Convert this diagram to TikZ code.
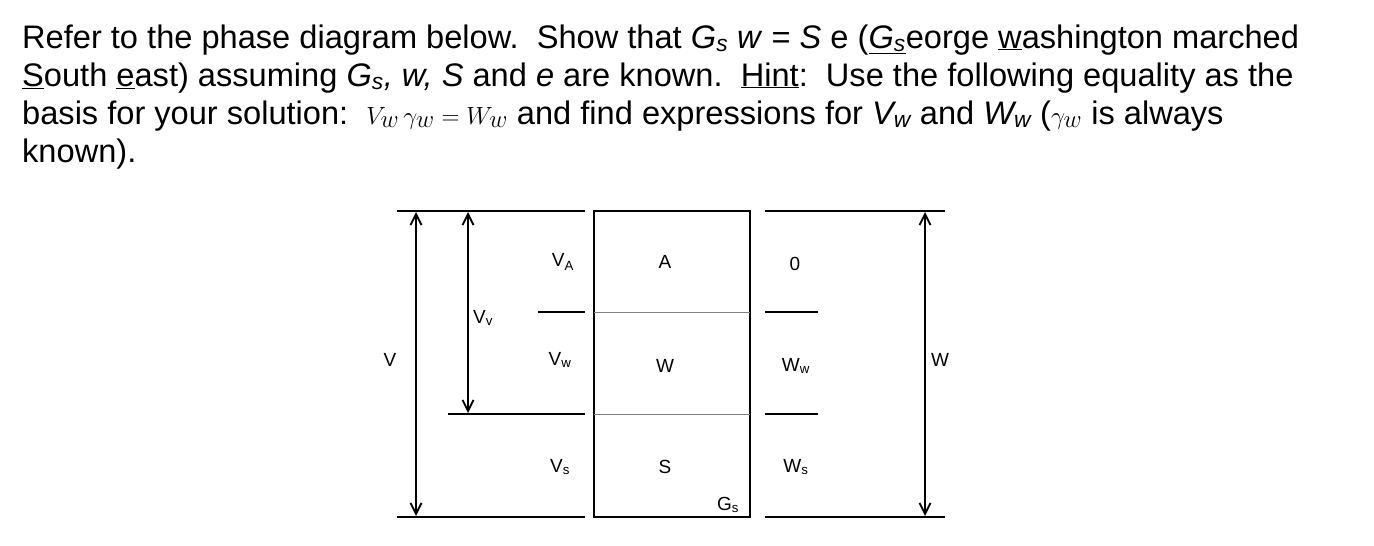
\documentclass[tikz,border=0pt]{standalone}
\usepackage{fontspec}
\setmainfont{Liberation Sans}
\usetikzlibrary{arrows.meta}
\begin{document}
\begin{tikzpicture}[x=1pt,y=-1pt,
 txt/.style={anchor=base west,inner sep=0pt,font=\fontsize{32.6}{38}\selectfont},
 lbl/.style={font=\fontsize{19}{22}\selectfont,inner sep=1pt},
 thk/.style={line width=2.2pt},
 dim/.style={line width=1.8pt,{Straight Barb[length=11pt,width=11pt,line width=1.8pt]}-{Straight Barb[length=11pt,width=11pt,line width=1.8pt]}}]
\useasboundingbox (0,0) rectangle (1374,546);
\node[txt] (l1) at (22,48) {Refer to the phase diagram below.\ \ Show that \textit{G\textsubscript{s} w} = \textit{S} e (\underline{\textit{G\textsubscript{s}}}eorge \underline{w}ashington marched};
\node[txt] (l2) at (22,86) {\underline{S}outh \underline{e}ast) assuming \textit{G\textsubscript{s}, w, S} and \textit{e} are known.\ \ \underline{Hint}:\ \ Use the following equality as the};
\node[txt] (l3) at (22,124) {basis for your solution:\ \ {\fontsize{38}{38}\selectfont$V_w\,\gamma_w = W_w$} and find expressions for \textit{V\textsubscript{w}} and \textit{W\textsubscript{w}} ({\fontsize{38}{38}\selectfont$\gamma_w$} is always};
\node[txt] (l4) at (22,162) {known).};
% lines
\draw[thk] (397,211) -- (585,211);
\draw[thk] (397,517) -- (585,517);
\draw[thk] (765,211) -- (945,211);
\draw[thk] (765,517) -- (945,517);
\draw[thk] (538,312) -- (585,312);
\draw[thk] (448,414) -- (585,414);
\draw[thk] (765,312) -- (818,312);
\draw[thk] (765,414) -- (818,414);
\draw[thk] (594,211) rectangle (750,517);
\draw[gray,line width=0.8pt] (594,312) -- (750,312);
\draw[gray,line width=0.8pt] (594,414) -- (750,414);
\coordinate (a1) at (416,212); \coordinate (a2) at (416,516);
\coordinate (b1) at (468,212); \coordinate (b2) at (468,413);
\coordinate (c1) at (925,212); \coordinate (c2) at (925,516);
\draw[dim] (a1) -- (a2);
\draw[dim] (b1) -- (b2);
\draw[dim] (c1) -- (c2);
% labels
\node[lbl] (V) at (390,360) {V};
\node[lbl] (Vv) at (483,318) {V\textsubscript{v}};
\node[lbl] (VA) at (563,262) {V\textsubscript{A}};
\node[lbl] (Vw) at (560,360) {V\textsubscript{w}};
\node[lbl] (Vs) at (560,467) {V\textsubscript{s}};
\node[lbl] (A) at (665,262) {A};
\node[lbl] (W) at (665,366) {W};
\node[lbl] (S) at (665,467) {S};
\node[lbl] (Gs) at (728,505) {G\textsubscript{s}};
\node[lbl] (z) at (795,264) {0};
\node[lbl] (Ww) at (796,366) {W\textsubscript{w}};
\node[lbl] (Ws) at (796,467) {W\textsubscript{s}};
\node[lbl] (Wt) at (940,360) {W};
\end{tikzpicture}
\end{document}
